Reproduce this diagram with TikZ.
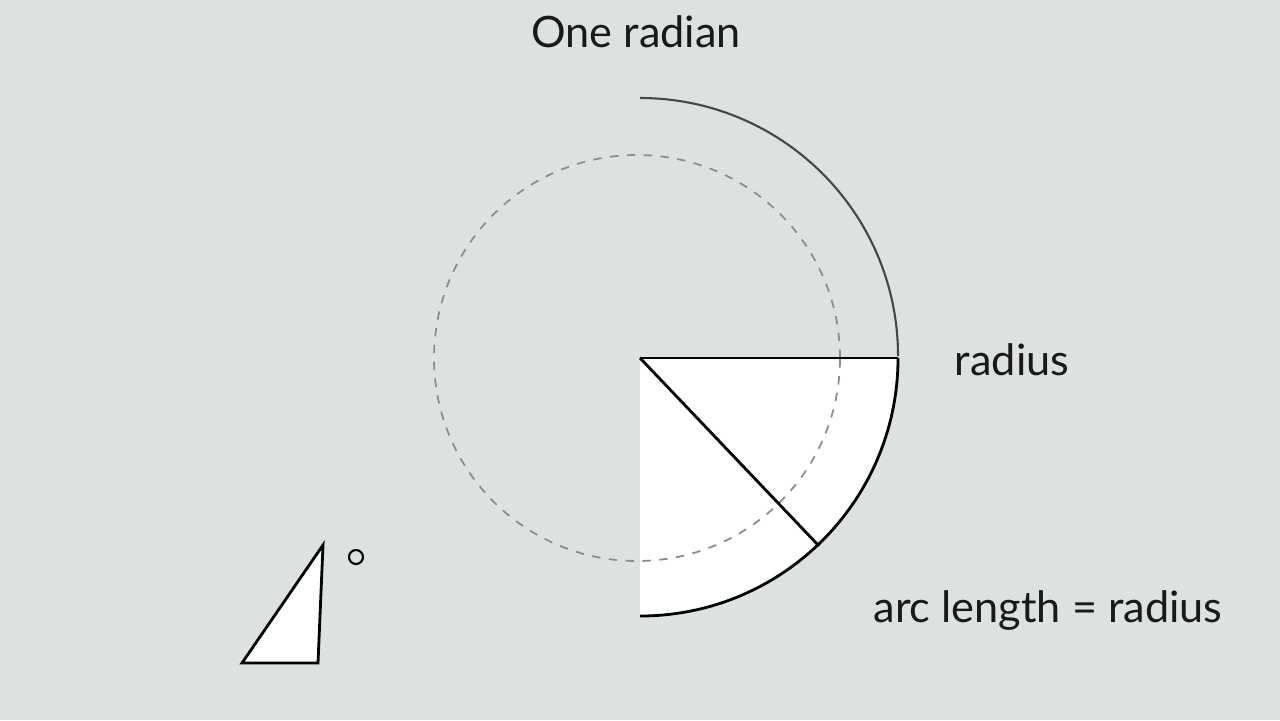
\documentclass[tikz,border=0pt]{standalone}
\usepackage{fontspec}
\setmainfont{Lato}
\definecolor{bg}{RGB}{221,225,224}
\definecolor{arcgray}{RGB}{70,70,70}
\definecolor{dashgray}{RGB}{140,140,140}
\tikzset{
    edge/.style={line width=0.8pt,black},
    label/.style={font=\fontsize{12.3}{15}\selectfont,text=black!90}
}
\begin{document}
\begin{tikzpicture}[x=0.01cm,y=0.01cm]
        %% Background
        \fill[bg] (0,0) rectangle (1280,720);
        \coordinate (O) at (640,362);
        %% Sector
        \fill[white] (O) -- (898,362) arc[start angle=0,end angle=-90,radius=258] -- ++(0,-2) -- cycle;
        %% Dashed circle
        \draw[dashgray,line width=0.5pt,dash pattern=on 2.4pt off 2.4pt] (637,362) circle (203);
        \draw[edge] (O) -- (898,362);
        \draw[edge] (898,362) arc[start angle=0,end angle=-90,radius=258];
        \coordinate (P) at (819,174);
        \draw[edge] (O) -- (P);
        %% Upper arc
        \draw[arcgray,line width=0.6pt] (640,622) arc[start angle=90,end angle=0,radius=258];
        %% Triangle and circle
        \draw[edge,fill=white] (242,57) -- (318,57) -- (323,175) -- cycle;
        \draw[line width=0.6pt] (356,163) circle (7);
        %% Labels
        \node[label] (title) at (636,688) {One radian};
        \node[label] (rad) at (1012,360) {radius};
        \node[label] (arclen) at (1048,110) {arc length = radius};
    \end{tikzpicture}
\end{document}
